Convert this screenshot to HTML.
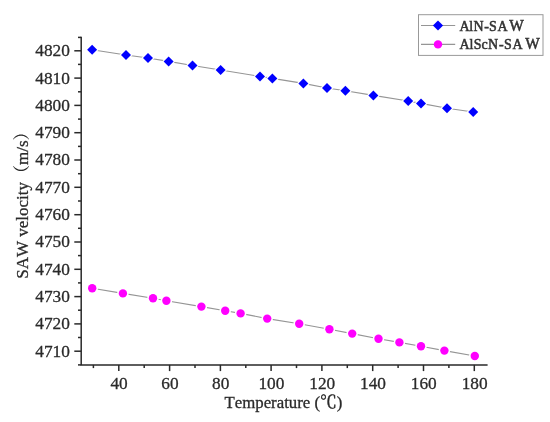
<!DOCTYPE html>
<html><head><meta charset="utf-8"><title>SAW velocity vs Temperature</title>
<style>
html,body{margin:0;padding:0;background:#fff;}
body{width:550px;height:422px;overflow:hidden;}
svg{display:block;}
text{font-family:"Liberation Serif","Noto Serif CJK SC",serif;fill:#2a2a2a;stroke:#2a2a2a;stroke-width:0.3;font-kerning:none;}
.lg{stroke-width:0.5;fill:#333;stroke:#333;}
.cj{stroke:none;}
.dc{stroke-width:0.45;}
</style></head><body>
<svg width="550" height="422" viewBox="0 0 550 422">
<rect width="550" height="422" fill="#fff"/>
<polyline fill="none" stroke="#959595" stroke-width="1.15" points="92.1,49.8 126.0,55.0 148.0,58.0 168.6,61.4 192.5,65.5 220.6,70.0 260.0,76.4 272.4,78.4 303.4,83.4 327.0,88.0 345.4,90.8 373.4,95.4 408.2,101.0 421.0,103.4 447.0,108.2 473.2,112.0"/>
<polyline fill="none" stroke="#959595" stroke-width="1.15" points="92.2,288.2 122.9,293.4 153.0,298.2 166.4,300.8 201.4,306.6 225.2,310.8 240.6,313.4 267.2,318.6 299.2,323.8 329.4,329.2 352.2,333.6 378.5,338.8 399.4,342.4 421.0,346.2 444.4,350.6 474.8,356.0"/>
<path d="M85.5 49.8L92.1 43.2L98.7 49.8L92.1 56.4Z" fill="#fff"/>
<path d="M119.4 55.0L126.0 48.4L132.6 55.0L126.0 61.6Z" fill="#fff"/>
<path d="M141.4 58.0L148.0 51.4L154.6 58.0L148.0 64.6Z" fill="#fff"/>
<path d="M162.0 61.4L168.6 54.8L175.2 61.4L168.6 68.0Z" fill="#fff"/>
<path d="M185.9 65.5L192.5 58.9L199.1 65.5L192.5 72.1Z" fill="#fff"/>
<path d="M214.0 70.0L220.6 63.4L227.2 70.0L220.6 76.6Z" fill="#fff"/>
<path d="M253.4 76.4L260.0 69.8L266.6 76.4L260.0 83.0Z" fill="#fff"/>
<path d="M265.8 78.4L272.4 71.8L279.0 78.4L272.4 85.0Z" fill="#fff"/>
<path d="M296.8 83.4L303.4 76.8L310.0 83.4L303.4 90.0Z" fill="#fff"/>
<path d="M320.4 88.0L327.0 81.4L333.6 88.0L327.0 94.6Z" fill="#fff"/>
<path d="M338.8 90.8L345.4 84.2L352.0 90.8L345.4 97.4Z" fill="#fff"/>
<path d="M366.8 95.4L373.4 88.8L380.0 95.4L373.4 102.0Z" fill="#fff"/>
<path d="M401.6 101.0L408.2 94.4L414.8 101.0L408.2 107.6Z" fill="#fff"/>
<path d="M414.4 103.4L421.0 96.8L427.6 103.4L421.0 110.0Z" fill="#fff"/>
<path d="M440.4 108.2L447.0 101.6L453.6 108.2L447.0 114.8Z" fill="#fff"/>
<path d="M466.6 112.0L473.2 105.4L479.8 112.0L473.2 118.6Z" fill="#fff"/>
<circle cx="92.2" cy="288.2" r="5.8" fill="#fff"/>
<circle cx="122.9" cy="293.4" r="5.8" fill="#fff"/>
<circle cx="153.0" cy="298.2" r="5.8" fill="#fff"/>
<circle cx="166.4" cy="300.8" r="5.8" fill="#fff"/>
<circle cx="201.4" cy="306.6" r="5.8" fill="#fff"/>
<circle cx="225.2" cy="310.8" r="5.8" fill="#fff"/>
<circle cx="240.6" cy="313.4" r="5.8" fill="#fff"/>
<circle cx="267.2" cy="318.6" r="5.8" fill="#fff"/>
<circle cx="299.2" cy="323.8" r="5.8" fill="#fff"/>
<circle cx="329.4" cy="329.2" r="5.8" fill="#fff"/>
<circle cx="352.2" cy="333.6" r="5.8" fill="#fff"/>
<circle cx="378.5" cy="338.8" r="5.8" fill="#fff"/>
<circle cx="399.4" cy="342.4" r="5.8" fill="#fff"/>
<circle cx="421.0" cy="346.2" r="5.8" fill="#fff"/>
<circle cx="444.4" cy="350.6" r="5.8" fill="#fff"/>
<circle cx="474.8" cy="356.0" r="5.8" fill="#fff"/>
<path d="M87.1 49.8L92.1 44.8L97.1 49.8L92.1 54.8Z" fill="#0000ff"/>
<path d="M121.0 55.0L126.0 50.0L131.0 55.0L126.0 60.0Z" fill="#0000ff"/>
<path d="M143.0 58.0L148.0 53.0L153.0 58.0L148.0 63.0Z" fill="#0000ff"/>
<path d="M163.6 61.4L168.6 56.4L173.6 61.4L168.6 66.4Z" fill="#0000ff"/>
<path d="M187.5 65.5L192.5 60.5L197.5 65.5L192.5 70.5Z" fill="#0000ff"/>
<path d="M215.6 70.0L220.6 65.0L225.6 70.0L220.6 75.0Z" fill="#0000ff"/>
<path d="M255.0 76.4L260.0 71.4L265.0 76.4L260.0 81.4Z" fill="#0000ff"/>
<path d="M267.4 78.4L272.4 73.4L277.4 78.4L272.4 83.4Z" fill="#0000ff"/>
<path d="M298.4 83.4L303.4 78.4L308.4 83.4L303.4 88.4Z" fill="#0000ff"/>
<path d="M322.0 88.0L327.0 83.0L332.0 88.0L327.0 93.0Z" fill="#0000ff"/>
<path d="M340.4 90.8L345.4 85.8L350.4 90.8L345.4 95.8Z" fill="#0000ff"/>
<path d="M368.4 95.4L373.4 90.4L378.4 95.4L373.4 100.4Z" fill="#0000ff"/>
<path d="M403.2 101.0L408.2 96.0L413.2 101.0L408.2 106.0Z" fill="#0000ff"/>
<path d="M416.0 103.4L421.0 98.4L426.0 103.4L421.0 108.4Z" fill="#0000ff"/>
<path d="M442.0 108.2L447.0 103.2L452.0 108.2L447.0 113.2Z" fill="#0000ff"/>
<path d="M468.2 112.0L473.2 107.0L478.2 112.0L473.2 117.0Z" fill="#0000ff"/>
<circle cx="92.2" cy="288.2" r="4.2" fill="#ff00ff"/>
<circle cx="122.9" cy="293.4" r="4.2" fill="#ff00ff"/>
<circle cx="153.0" cy="298.2" r="4.2" fill="#ff00ff"/>
<circle cx="166.4" cy="300.8" r="4.2" fill="#ff00ff"/>
<circle cx="201.4" cy="306.6" r="4.2" fill="#ff00ff"/>
<circle cx="225.2" cy="310.8" r="4.2" fill="#ff00ff"/>
<circle cx="240.6" cy="313.4" r="4.2" fill="#ff00ff"/>
<circle cx="267.2" cy="318.6" r="4.2" fill="#ff00ff"/>
<circle cx="299.2" cy="323.8" r="4.2" fill="#ff00ff"/>
<circle cx="329.4" cy="329.2" r="4.2" fill="#ff00ff"/>
<circle cx="352.2" cy="333.6" r="4.2" fill="#ff00ff"/>
<circle cx="378.5" cy="338.8" r="4.2" fill="#ff00ff"/>
<circle cx="399.4" cy="342.4" r="4.2" fill="#ff00ff"/>
<circle cx="421.0" cy="346.2" r="4.2" fill="#ff00ff"/>
<circle cx="444.4" cy="350.6" r="4.2" fill="#ff00ff"/>
<circle cx="474.8" cy="356.0" r="4.2" fill="#ff00ff"/>
<g stroke="#2a2a2a" stroke-width="1.5" fill="none">
<path d="M81.2 36.7V364.9H487.6"/>
<path d="M81.2 351.2H74.3"/>
<path d="M81.2 323.9H74.3"/>
<path d="M81.2 296.6H74.3"/>
<path d="M81.2 269.3H74.3"/>
<path d="M81.2 242.0H74.3"/>
<path d="M81.2 214.7H74.3"/>
<path d="M81.2 187.3H74.3"/>
<path d="M81.2 160.0H74.3"/>
<path d="M81.2 132.7H74.3"/>
<path d="M81.2 105.4H74.3"/>
<path d="M81.2 78.1H74.3"/>
<path d="M81.2 50.8H74.3"/>
<path d="M81.2 364.9H78.0"/>
<path d="M81.2 337.5H78.0"/>
<path d="M81.2 310.2H78.0"/>
<path d="M81.2 282.9H78.0"/>
<path d="M81.2 255.6H78.0"/>
<path d="M81.2 228.3H78.0"/>
<path d="M81.2 201.0H78.0"/>
<path d="M81.2 173.7H78.0"/>
<path d="M81.2 146.4H78.0"/>
<path d="M81.2 119.1H78.0"/>
<path d="M81.2 91.8H78.0"/>
<path d="M81.2 64.4H78.0"/>
<path d="M81.2 37.4H78.0"/>
<path d="M118.8 364.9V371.1"/>
<path d="M169.6 364.9V371.1"/>
<path d="M220.4 364.9V371.1"/>
<path d="M271.1 364.9V371.1"/>
<path d="M321.9 364.9V371.1"/>
<path d="M372.7 364.9V371.1"/>
<path d="M423.5 364.9V371.1"/>
<path d="M474.3 364.9V371.1"/>
<path d="M93.4 364.9V368.1"/>
<path d="M144.2 364.9V368.1"/>
<path d="M195.0 364.9V368.1"/>
<path d="M245.8 364.9V368.1"/>
<path d="M296.5 364.9V368.1"/>
<path d="M347.3 364.9V368.1"/>
<path d="M398.1 364.9V368.1"/>
<path d="M448.9 364.9V368.1"/>
</g>
<g font-size="17.3">
<text x="69.9" y="356.6" text-anchor="end">4710</text>
<text x="69.9" y="329.3" text-anchor="end">4720</text>
<text x="69.9" y="302.0" text-anchor="end">4730</text>
<text x="69.9" y="274.7" text-anchor="end">4740</text>
<text x="69.9" y="247.4" text-anchor="end">4750</text>
<text x="69.9" y="220.1" text-anchor="end">4760</text>
<text x="69.9" y="192.7" text-anchor="end">4770</text>
<text x="69.9" y="165.4" text-anchor="end">4780</text>
<text x="69.9" y="138.1" text-anchor="end">4790</text>
<text x="69.9" y="110.8" text-anchor="end">4800</text>
<text x="69.9" y="83.5" text-anchor="end">4810</text>
<text x="69.9" y="56.2" text-anchor="end">4820</text>
<text x="119.1" y="388.9" text-anchor="middle">40</text>
<text x="169.9" y="388.9" text-anchor="middle">60</text>
<text x="220.7" y="388.9" text-anchor="middle">80</text>
<text x="271.4" y="388.9" text-anchor="middle">100</text>
<text x="322.2" y="388.9" text-anchor="middle">120</text>
<text x="373.0" y="388.9" text-anchor="middle">140</text>
<text x="423.8" y="388.9" text-anchor="middle">160</text>
<text x="474.6" y="388.9" text-anchor="middle">180</text>
</g>
<text x="224.5" y="408.4" font-size="16.8">Temperature (<tspan class="dc">℃</tspan>)</text>
<text transform="translate(28,278.8) rotate(-90)" font-size="17">SAW velocity<tspan class="cj">（</tspan>m/s<tspan class="cj">）</tspan></text>
<rect x="418.5" y="14.7" width="124.5" height="40.7" fill="#fff" stroke="#999" stroke-width="1"/>
<path d="M421 25.5H455.2M421 44.4H455.2" stroke="#959595" stroke-width="1.15"/>
<path d="M432.9 25.5L438.0 20.4L443.1 25.5L438.0 30.6Z" fill="#0000ff"/>
<circle cx="438" cy="44.4" r="4.2" fill="#ff00ff"/>
<text transform="translate(0,30.8) scale(1,1.09)" x="459.4 469.3 473.6 484.2 488.9 497.6" y="0" font-size="14" class="lg">AlN-SA<tspan x="509.2" font-size="15.4">W</tspan></text>
<text transform="translate(0,49.1) scale(1,1.09)" x="459.4 469.4 473.7 481.6 488.1 499.0 503.9 512.6" y="0" font-size="14" class="lg">AlScN-SA<tspan x="525.2" font-size="15.4">W</tspan></text>
</svg></body></html>
